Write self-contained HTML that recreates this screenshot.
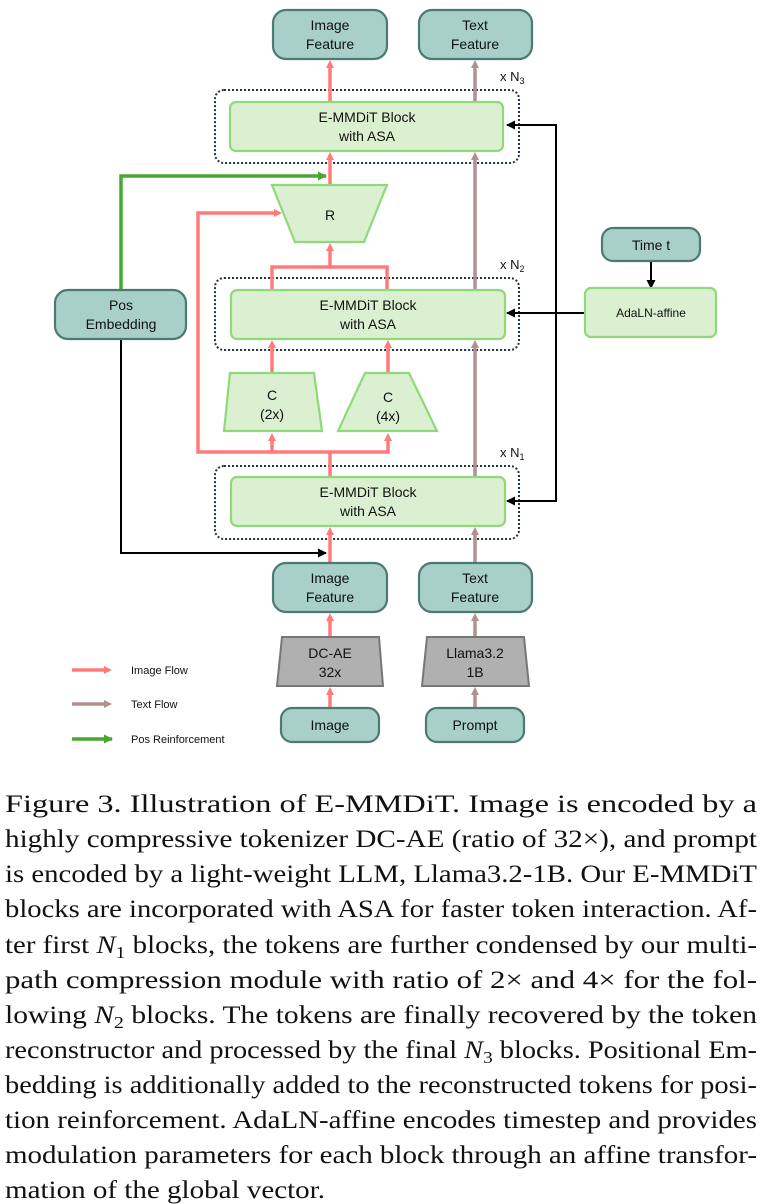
<!DOCTYPE html>
<html><head><meta charset="utf-8"><style>
html,body{margin:0;padding:0;background:#fff;width:762px;height:1204px;overflow:hidden}
svg{display:block}
.d{font-family:"Liberation Sans",Arial,sans-serif;font-size:14px;fill:#111;text-anchor:middle}
.c{font-family:"Liberation Serif","Times New Roman",serif;font-size:25px;fill:#111}
</style></head><body>
<svg width="762" height="1204" viewBox="0 0 762 1204" xmlns="http://www.w3.org/2000/svg">
<defs>
<marker id="ar" markerWidth="8" markerHeight="8" refX="4" refY="4" orient="auto" markerUnits="userSpaceOnUse"><path d="M0,0 L8,4 L0,8z" fill="#ff7b7b"/></marker>
<marker id="at" markerWidth="8" markerHeight="8" refX="4" refY="4" orient="auto" markerUnits="userSpaceOnUse"><path d="M0,0 L8,4 L0,8z" fill="#b09090"/></marker>
<marker id="ak" markerWidth="9" markerHeight="9" refX="8" refY="4.5" orient="auto" markerUnits="userSpaceOnUse"><path d="M0,0 L9,4.5 L0,9z" fill="#000"/></marker>
<marker id="ag" markerWidth="9" markerHeight="9" refX="8" refY="4.5" orient="auto" markerUnits="userSpaceOnUse"><path d="M0,0 L9,4.5 L0,9z" fill="#4aa832"/></marker>
</defs>
<g fill="none" stroke="#223344" stroke-width="2" stroke-dasharray="2,2">
<rect x="215" y="90" width="304" height="73" rx="9"/>
<rect x="215" y="278" width="304" height="72" rx="9"/>
<rect x="215" y="466" width="304" height="73" rx="9"/>
</g>
<g stroke="#ff7b7b" stroke-width="3.5" fill="none">
<line x1="330" y1="102" x2="330" y2="64" marker-end="url(#ar)"/>
<line x1="330" y1="185" x2="330" y2="156" marker-end="url(#ar)"/>
<polyline points="272,290 272,267 387,267 387,290"/>
<line x1="330" y1="267" x2="330" y2="247" marker-end="url(#ar)"/>
<line x1="272" y1="373" x2="272" y2="344" marker-end="url(#ar)"/>
<line x1="388" y1="373" x2="388" y2="344" marker-end="url(#ar)"/>
<polyline points="330,477 330,452 198,452 198,213 278,213" marker-end="url(#ar)"/>
<polyline points="272,452 272,437" marker-end="url(#ar)"/>
<polyline points="330,452 388,452 388,437" marker-end="url(#ar)"/>
<line x1="330" y1="563" x2="330" y2="531" marker-end="url(#ar)"/>
<line x1="330" y1="637" x2="330" y2="617" marker-end="url(#ar)"/>
<line x1="330" y1="708" x2="330" y2="691" marker-end="url(#ar)"/>
<line x1="72" y1="670" x2="108" y2="670" marker-end="url(#ar)"/>
</g>
<g stroke="#b09090" stroke-width="3.5" fill="none">
<line x1="475" y1="102" x2="475" y2="64" marker-end="url(#at)"/>
<line x1="475" y1="290" x2="475" y2="156" marker-end="url(#at)"/>
<line x1="475" y1="477" x2="475" y2="344" marker-end="url(#at)"/>
<line x1="475" y1="563" x2="475" y2="531" marker-end="url(#at)"/>
<line x1="475" y1="637" x2="475" y2="617" marker-end="url(#at)"/>
<line x1="475" y1="708" x2="475" y2="691" marker-end="url(#at)"/>
<line x1="72" y1="704" x2="108" y2="704" marker-end="url(#at)"/>
</g>
<g stroke="#4aa832" stroke-width="3.5" fill="none">
<polyline points="121,290 121,176 326,176" marker-end="url(#ag)"/>
<line x1="72" y1="739" x2="112" y2="739" marker-end="url(#ag)"/>
</g>
<g stroke="#000" stroke-width="2" fill="none">
<polyline points="121,339 121,553 326,553" marker-end="url(#ak)"/>
<polyline points="556,313 556,125 507,125" marker-end="url(#ak)"/>
<polyline points="556,313 556,501 507,501" marker-end="url(#ak)"/>
<line x1="585" y1="313" x2="507" y2="313" marker-end="url(#ak)"/>
<line x1="651" y1="261" x2="651" y2="288" marker-end="url(#ak)"/>
</g>
<g fill="#a8d0c9" stroke="#4a7a72" stroke-width="2.2">
<rect x="273" y="10" width="114" height="49" rx="13"/>
<rect x="419" y="10" width="113" height="49" rx="13"/>
<rect x="273" y="563" width="114" height="49" rx="13"/>
<rect x="419" y="563" width="113" height="49" rx="13"/>
<rect x="281" y="708" width="98" height="34" rx="11"/>
<rect x="426" y="708" width="98" height="34" rx="11"/>
<rect x="55" y="290" width="131" height="49" rx="13"/>
<rect x="602" y="228" width="98" height="33" rx="11"/>
</g>
<g fill="#daf0d0" stroke="#8fd97a" stroke-width="2.2">
<rect x="230" y="102" width="273" height="49" rx="6"/>
<rect x="231" y="290" width="274" height="49" rx="6"/>
<rect x="231" y="477" width="274" height="49" rx="6"/>
<rect x="585" y="288" width="131" height="49" rx="6"/>
<polygon points="272,185 387,185 364,242 295,242"/>
<polygon points="230,373 314,373 322,431 224,431"/>
<polygon points="365,373 409,373 437,431 338,431"/>
</g>
<g fill="#b0b0b0" stroke="#777" stroke-width="2">
<polygon points="282,637 379,637 383,686 277,686"/>
<polygon points="427,637 524,637 529,686 422,686"/>
</g>
<g class="d">
<text x="330" y="30">Image</text><text x="330" y="49">Feature</text>
<text x="475" y="30">Text</text><text x="475" y="49">Feature</text>
<text x="367" y="122">E-MMDiT Block</text><text x="367" y="141">with ASA</text>
<text x="368" y="310">E-MMDiT Block</text><text x="368" y="329">with ASA</text>
<text x="368" y="497">E-MMDiT Block</text><text x="368" y="516">with ASA</text>
<text x="330" y="220">R</text>
<text x="272" y="400">C</text><text x="272" y="419">(2x)</text>
<text x="388" y="402">C</text><text x="388" y="421">(4x)</text>
<text x="121" y="310">Pos</text><text x="121" y="329">Embedding</text>
<text x="651" y="250">Time t</text>
<text x="651" y="317" style="font-size:12px">AdaLN-affine</text>
<text x="330" y="583">Image</text><text x="330" y="602">Feature</text>
<text x="475" y="583">Text</text><text x="475" y="602">Feature</text>
<text x="330" y="658">DC-AE</text><text x="330" y="677">32x</text>
<text x="475" y="658">Llama3.2</text><text x="475" y="677">1B</text>
<text x="330" y="730">Image</text>
<text x="475" y="730">Prompt</text>
</g>
<g class="d" style="text-anchor:start;font-size:13px">
<text x="500" y="81">x N<tspan font-size="9" dy="3">3</tspan></text>
<text x="500" y="269">x N<tspan font-size="9" dy="3">2</tspan></text>
<text x="500" y="457">x N<tspan font-size="9" dy="3">1</tspan></text>
</g>
<g class="d" style="text-anchor:start;font-size:11px">
<text x="131" y="674">Image Flow</text>
<text x="131" y="708">Text Flow</text>
<text x="131" y="743">Pos Reinforcement</text>
</g>
<g class="c">
<text x="5" y="812" textLength="752" lengthAdjust="spacingAndGlyphs">Figure 3.  Illustration of E-MMDiT. Image is encoded by a</text>
<text x="5" y="847" textLength="752" lengthAdjust="spacingAndGlyphs">highly compressive tokenizer DC-AE (ratio of 32×), and prompt</text>
<text x="5" y="882" textLength="752" lengthAdjust="spacingAndGlyphs">is encoded by a light-weight LLM, Llama3.2-1B. Our E-MMDiT</text>
<text x="5" y="917" textLength="752" lengthAdjust="spacingAndGlyphs">blocks are incorporated with ASA for faster token interaction. Af-</text>
<text x="5" y="953" textLength="752" lengthAdjust="spacingAndGlyphs">ter first <tspan font-style="italic">N</tspan><tspan font-size="17" dy="5">1</tspan><tspan dy="-5"> blocks, the tokens are further condensed by our multi-</tspan></text>
<text x="5" y="988" textLength="752" lengthAdjust="spacingAndGlyphs">path compression module with ratio of 2× and 4× for the fol-</text>
<text x="5" y="1023" textLength="752" lengthAdjust="spacingAndGlyphs">lowing <tspan font-style="italic">N</tspan><tspan font-size="17" dy="5">2</tspan><tspan dy="-5"> blocks.  The tokens are finally recovered by the token</tspan></text>
<text x="5" y="1058" textLength="752" lengthAdjust="spacingAndGlyphs">reconstructor and processed by the final <tspan font-style="italic">N</tspan><tspan font-size="17" dy="5">3</tspan><tspan dy="-5"> blocks. Positional Em-</tspan></text>
<text x="5" y="1093" textLength="752" lengthAdjust="spacingAndGlyphs">bedding is additionally added to the reconstructed tokens for posi-</text>
<text x="5" y="1128" textLength="752" lengthAdjust="spacingAndGlyphs">tion reinforcement.  AdaLN-affine encodes timestep and provides</text>
<text x="5" y="1163" textLength="752" lengthAdjust="spacingAndGlyphs">modulation parameters for each block through an affine transfor-</text>
<text x="5" y="1198" textLength="320" lengthAdjust="spacingAndGlyphs">mation of the global vector.</text>
</g>
</svg>
</body></html>
